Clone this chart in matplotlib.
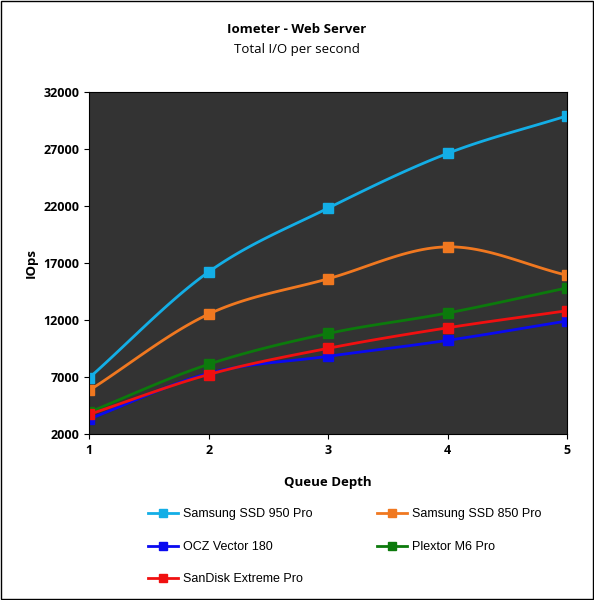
import numpy as np
import matplotlib
matplotlib.use("Agg")
import matplotlib.pyplot as plt
from matplotlib.lines import Line2D

queue_depth = [1, 2, 3, 4, 5]
samsung_950 = [6900, 16200, 21800, 26600, 29900]
samsung_850 = [5800, 12500, 15600, 18400, 15900]
ocz_vector = [3300, 7300, 8800, 10200, 11900]
plextor_m6 = [3900, 8100, 10800, 12600, 14800]
sandisk_ext = [3700, 7200, 9500, 11300, 12800]
names = ["Samsung SSD 950 Pro", "Samsung SSD 850 Pro", "OCZ Vector 180", "Plextor M6 Pro", "SanDisk Extreme Pro"]
colors = ["#13aee6", "#f07820", "#0a0af0", "#0c7a0c", "#f01010"]
series = [samsung_950, samsung_850, ocz_vector, plextor_m6, sandisk_ext]

plt.rcParams['font.family'] = ['Open Sans', 'DejaVu Sans']

def smooth(x, y, n=30):
    x = np.asarray(x, float); y = np.asarray(y, float)
    px = np.concatenate([[2*x[0]-x[1]], x, [2*x[-1]-x[-2]]])
    py = np.concatenate([[2*y[0]-y[1]], y, [2*y[-1]-y[-2]]])
    xs, ys = [], []
    for i in range(1, len(px)-2):
        t = np.linspace(0, 1, n)
        for arr, out in ((px, xs), (py, ys)):
            p0, p1, p2, p3 = arr[i-1], arr[i], arr[i+1], arr[i+2]
            out.append(0.5*((2*p1) + (-p0+p2)*t + (2*p0-5*p1+4*p2-p3)*t**2 + (-p0+3*p1-3*p2+p3)*t**3))
    return np.concatenate(xs), np.concatenate(ys)

fig = plt.figure(figsize=(5.94, 6.0), dpi=100)
fig.patches.append(plt.Rectangle((0.002, 0.002), 0.996, 0.996, transform=fig.transFigure,
                                 fill=False, edgecolor='black', linewidth=1))
ax = fig.add_axes([0.150, 0.277, 0.805, 0.570])
ax.set_facecolor('#333333')
for s, c in zip(series, colors):
    sx, sy = smooth(queue_depth, s)
    ax.plot(sx, sy, color=c, lw=2)
    ax.plot(queue_depth, s, 's', color=c, ms=7, ls='none')
ax.set_xlim(1, 5)
ax.set_ylim(2000, 32000)
ax.set_xticks(queue_depth)
ax.set_yticks(range(2000, 32001, 5000))
ax.grid(False)
for lab in ax.get_xticklabels() + ax.get_yticklabels():
    lab.set_fontweight('bold'); lab.set_fontsize(9)
ax.set_xlabel("Queue Depth", fontweight='bold', fontsize=9.5, labelpad=14)
ax.set_ylabel("IOps", fontweight='bold', fontsize=9.5)
fig.text(0.5, 0.945, "Iometer - Web Server", ha='center', fontweight='bold', fontsize=9.5)
fig.text(0.5, 0.912, "Total I/O per second", ha='center', fontsize=9.5)

handles = [Line2D([0], [0], color=c, lw=2, marker='s', ms=6) for c in colors]
positions = [(0.238, 0.143), (0.624, 0.143), (0.238, 0.088), (0.624, 0.088), (0.238, 0.035)]
for h, n, (x, y) in zip(handles, names, positions):
    fig.legend([h], [n], loc='center left', bbox_to_anchor=(x, y), frameon=False,
               prop={'family': 'Liberation Sans', 'size': 9},
               handlelength=2.4, borderpad=0, handletextpad=0.4)
fig.savefig("out.png", dpi=100)
